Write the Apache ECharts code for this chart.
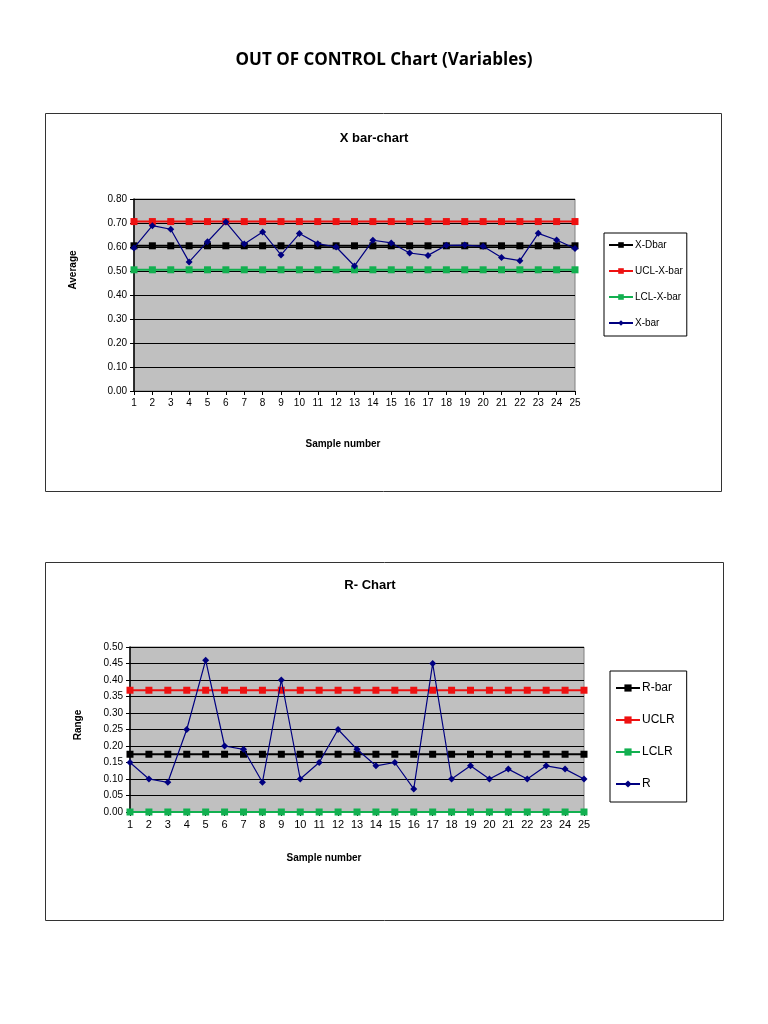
<!DOCTYPE html>
<html>
<head>
<meta charset="utf-8">
<script src="https://cdn.jsdelivr.net/npm/echarts@6/dist/echarts.min.js"></script>
<style>
  html, body { margin: 0; padding: 0; background: #fff; }
  #main { width: 768px; height: 1024px; }
</style>
</head>
<body>
<div id="main"></div>
<script>
// sample numbers 1..25
var samples = ['1','2','3','4','5','6','7','8','9','10','11','12','13','14','15','16','17','18','19','20','21','22','23','24','25'];

// X bar chart
var xDbar = [0.605,0.605,0.605,0.605,0.605,0.605,0.605,0.605,0.605,0.605,0.605,0.605,0.605,0.605,0.605,0.605,0.605,0.605,0.605,0.605,0.605,0.605,0.605,0.605,0.605];
var uclX  = [0.706,0.706,0.706,0.706,0.706,0.706,0.706,0.706,0.706,0.706,0.706,0.706,0.706,0.706,0.706,0.706,0.706,0.706,0.706,0.706,0.706,0.706,0.706,0.706,0.706];
var lclX  = [0.505,0.505,0.505,0.505,0.505,0.505,0.505,0.505,0.505,0.505,0.505,0.505,0.505,0.505,0.505,0.505,0.505,0.505,0.505,0.505,0.505,0.505,0.505,0.505,0.505];
var xBar  = [0.596,0.689,0.674,0.538,0.622,0.704,0.612,0.662,0.567,0.656,0.614,0.600,0.521,0.628,0.617,0.575,0.565,0.607,0.608,0.603,0.556,0.543,0.657,0.629,0.594];

// R chart
var rBar = [0.175,0.175,0.175,0.175,0.175,0.175,0.175,0.175,0.175,0.175,0.175,0.175,0.175,0.175,0.175,0.175,0.175,0.175,0.175,0.175,0.175,0.175,0.175,0.175,0.175];
var uclR = [0.369,0.369,0.369,0.369,0.369,0.369,0.369,0.369,0.369,0.369,0.369,0.369,0.369,0.369,0.369,0.369,0.369,0.369,0.369,0.369,0.369,0.369,0.369,0.369,0.369];
var lclR = [0,0,0,0,0,0,0,0,0,0,0,0,0,0,0,0,0,0,0,0,0,0,0,0,0];
var rVals = [0.15,0.10,0.09,0.25,0.46,0.20,0.19,0.09,0.40,0.10,0.15,0.25,0.19,0.14,0.15,0.07,0.45,0.10,0.14,0.10,0.13,0.10,0.14,0.13,0.10];

var font = 'Liberation Sans, Arial, sans-serif';

function xAx(grid, size) {
    return {
        type: 'category', gridIndex: grid, data: samples, boundaryGap: false,
        axisLine: { lineStyle: { color: '#000', width: 1 } },
        axisTick: { show: true, alignWithLabel: true, length: 4, lineStyle: { color: '#000' } },
        axisLabel: { color: '#000', fontFamily: font, fontSize: size, margin: 7, interval: 0 },
        splitLine: { show: false }
    };
}
function yAx(grid, max, step, size) {
    return {
        type: 'value', gridIndex: grid, min: 0, max: max, interval: step,
        axisLine: { show: true, lineStyle: { color: '#000', width: 1.5 } },
        axisTick: { show: true, length: 4, lineStyle: { color: '#000' } },
        axisLabel: { color: '#000', fontFamily: font, fontSize: size, margin: 7,
            formatter: function (v) { return v.toFixed(2); } },
        splitLine: { show: true, lineStyle: { color: '#000', width: 1 } }
    };
}
function ctl(name, data, color, grid) {
    return {
        name: name, type: 'line', data: data, xAxisIndex: grid, yAxisIndex: grid,
        symbol: 'rect', symbolSize: 7, showAllSymbol: true,
        itemStyle: { color: color }, lineStyle: { color: color, width: 2 },
        animation: false, z: 3
    };
}
function obs(name, data, grid) {
    return {
        name: name, type: 'line', data: data, xAxisIndex: grid, yAxisIndex: grid,
        symbol: 'diamond', symbolSize: 7, showAllSymbol: true,
        itemStyle: { color: '#000080' }, lineStyle: { color: '#000080', width: 1.2 },
        animation: false, z: 4
    };
}

var myChart = echarts.init(document.getElementById('main'));

option = {
    backgroundColor: '#fff',
    animation: false,
    grid: [
        { left: 134, right: 193, top: 199, bottom: 633, show: true, backgroundColor: '#C0C0C0', borderColor: '#808080', borderWidth: 1 },
        { left: 130, right: 184, top: 647, bottom: 212, show: true, backgroundColor: '#C0C0C0', borderColor: '#808080', borderWidth: 1 }
    ],
    xAxis: [xAx(0, 10), xAx(1, 11)],
    yAxis: [yAx(0, 0.8, 0.1, 10), yAx(1, 0.5, 0.05, 10)],
    legend: [
        {
            data: ['X-Dbar', 'UCL-X-bar', 'LCL-X-bar', 'X-bar'],
            orient: 'vertical', left: 604, top: 233,
            padding: [7, 4, 8, 4], itemWidth: 24, itemHeight: 7, itemGap: 16,
            borderColor: '#000', borderWidth: 1,
            textStyle: { fontFamily: font, fontSize: 10, color: '#000', padding: [0, 0, 0, -3] }
        },
        {
            data: ['R-bar', 'UCLR', 'LCLR', 'R'],
            orient: 'vertical', left: 610, top: 671,
            padding: [11, 12, 12, 5], itemWidth: 24, itemHeight: 9, itemGap: 20,
            borderColor: '#000', borderWidth: 1,
            textStyle: { fontFamily: font, fontSize: 12, color: '#000', padding: [0, 0, 0, -3] }
        }
    ],
    graphic: [
        { type: 'rect', shape: { x: 45.5, y: 113.5, width: 676, height: 378 }, style: { fill: 'none', stroke: '#333', lineWidth: 1 }, z: -10 },
        { type: 'rect', shape: { x: 45.5, y: 562.5, width: 678, height: 358 }, style: { fill: 'none', stroke: '#333', lineWidth: 1 }, z: -10 },
        { type: 'text', x: 384, y: 60, style: { text: 'OUT OF CONTROL Chart (Variables)', fill: '#000', font: 'bold 17px "Open Sans", sans-serif', textAlign: 'center', textVerticalAlign: 'middle' } },
        { type: 'text', x: 374, y: 138, style: { text: 'X bar-chart', fill: '#000', font: 'bold 13px "Liberation Sans", Arial, sans-serif', textAlign: 'center', textVerticalAlign: 'middle' } },
        { type: 'text', x: 370, y: 585, style: { text: 'R- Chart', fill: '#000', font: 'bold 13px "Liberation Sans", Arial, sans-serif', textAlign: 'center', textVerticalAlign: 'middle' } },
        { type: 'text', x: 343, y: 444, style: { text: 'Sample number', fill: '#000', font: 'bold 10px "Liberation Sans", Arial, sans-serif', textAlign: 'center', textVerticalAlign: 'middle' } },
        { type: 'text', x: 324, y: 858, style: { text: 'Sample number', fill: '#000', font: 'bold 10px "Liberation Sans", Arial, sans-serif', textAlign: 'center', textVerticalAlign: 'middle' } },
        { type: 'text', x: 73, y: 270, rotation: Math.PI / 2, style: { text: 'Average', fill: '#000', font: 'bold 10px "Liberation Sans", Arial, sans-serif', textAlign: 'center', textVerticalAlign: 'middle' } },
        { type: 'text', x: 78, y: 725, rotation: Math.PI / 2, style: { text: 'Range', fill: '#000', font: 'bold 10px "Liberation Sans", Arial, sans-serif', textAlign: 'center', textVerticalAlign: 'middle' } }
    ],
    series: [
        ctl('X-Dbar', xDbar, '#000000', 0),
        ctl('UCL-X-bar', uclX, '#EE1111', 0),
        ctl('LCL-X-bar', lclX, '#12B050', 0),
        obs('X-bar', xBar, 0),
        ctl('R-bar', rBar, '#000000', 1),
        ctl('UCLR', uclR, '#EE1111', 1),
        ctl('LCLR', lclR, '#12B050', 1),
        obs('R', rVals, 1)
    ]
};
myChart.setOption(option);
</script>
</body>
</html>
